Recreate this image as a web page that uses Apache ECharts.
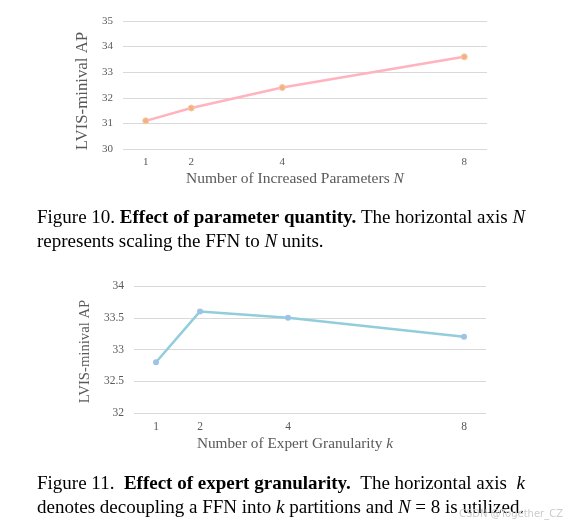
<!DOCTYPE html>
<html>
<head>
    <meta charset="utf-8">
    <title>Figure 10 / Figure 11</title>
    <script src="https://cdn.jsdelivr.net/npm/echarts@6/dist/echarts.min.js"></script>
    <style>
        html, body { margin: 0; padding: 0; background: #fff; }
        #main { width: 564px; height: 526px; }
    </style>
</head>
<body>
<div id="main"></div>
<script>
  // 数据
  var paramN = [1, 2, 4, 8];
  var paramAP = [31.1, 31.6, 32.4, 33.6];
  var granK = [1, 2, 4, 8];
  var granAP = [32.8, 33.6, 33.5, 33.2];
  var xTicks = [1, 2, 4, 8];

  var serif = '"Liberation Serif", "DejaVu Serif", serif';
  var grey = '#595959';
  var capSize = 19;

  function pairs(xs, ys) {
      return xs.map(function (x, i) { return [x, ys[i]]; });
  }

  function xAxisOf(idx, name, nameGap, shift, fs, tickFs) {
      return {
          type: 'value', gridIndex: idx, min: 0.5, max: 8.5,
          name: name, nameLocation: 'middle', nameGap: nameGap,
          nameTextStyle: { fontFamily: serif, fontSize: fs, color: grey, padding: [0, shift, 0, 0], rich: {
              i: { fontFamily: serif, fontSize: fs, color: grey, fontStyle: 'italic' }
          } },
          axisLine: { show: false }, axisTick: { show: false },
          splitLine: { show: false },
          axisLabel: { customValues: xTicks, fontFamily: serif, fontSize: tickFs, color: grey, margin: 8 }
      };
  }

  function yAxisOf(idx, min, max, interval, nameGap, fs, shift, tickFs) {
      return {
          type: 'value', gridIndex: idx, min: min, max: max, interval: interval,
          name: 'LVIS-minival AP', nameLocation: 'middle', nameGap: nameGap,
          nameTextStyle: { fontFamily: serif, fontSize: fs, color: grey, padding: [0, shift, 0, 0] },
          axisLine: { show: false }, axisTick: { show: false },
          splitLine: { lineStyle: { color: '#d9d9d9', width: 1 } },
          axisLabel: { fontFamily: serif, fontSize: tickFs, color: grey, margin: 10 }
      };
  }

  function capStyle(lh) {
      return {
          fontFamily: serif, fontSize: capSize, fontWeight: 'normal', color: '#000', lineHeight: lh,
          rich: {
              b: { fontFamily: serif, fontSize: capSize, fontWeight: 'bold', color: '#000', lineHeight: lh },
              i: { fontFamily: serif, fontSize: capSize, fontStyle: 'italic', color: '#000', lineHeight: lh }
          }
      };
  }

  var chart = echarts.init(document.getElementById('main'));
  chart.setOption({
      backgroundColor: '#fff',
      animation: false,
      title: [
          {
              left: 32, top: 201,
              text: 'Figure 10. {b|Effect of parameter quantity.} The horizontal axis {i|N}\nrepresents scaling the FFN to {i|N} units.',
              textStyle: capStyle(24)
          },
          {
              left: 32, top: 467,
              text: 'Figure 11.  {b|Effect of expert granularity.}  The horizontal axis  {i|k}\ndenotes decoupling a FFN into {i|k} partitions and {i|N} = 8 is utilized.',
              textStyle: capStyle(24)
          },
          {
              right: -4, top: 504,
              text: 'CSDN @Together_CZ',
              textStyle: { fontFamily: '"DejaVu Sans", sans-serif', fontSize: 10, fontWeight: 'normal', color: '#cccccc' }
          }
      ],
      grid: [
          { left: 123, right: 77, top: 21, height: 128 },
          { left: 134, right: 78, top: 286, height: 127 }
      ],
      xAxis: [
          xAxisOf(0, 'Number of Increased Parameters {i|N}', 22, 20, 15.5, 11),
          xAxisOf(1, 'Number of Expert Granularity {i|k}', 23, 30, 15.3, 11.5)
      ],
      yAxis: [
          yAxisOf(0, 30, 35, 1, 23, 16.8, 12, 11),
          yAxisOf(1, 32, 34, 0.5, 33, 14.7, 4, 11.5)
      ],
      series: [
          {
              type: 'line', xAxisIndex: 0, yAxisIndex: 0,
              data: pairs(paramN, paramAP),
              symbol: 'circle', symbolSize: 6,
              lineStyle: { color: '#ffb3bf', width: 2.5 },
              itemStyle: { color: '#f4b183', borderColor: '#f8c9a6', borderWidth: 1 }
          },
          {
              type: 'line', xAxisIndex: 1, yAxisIndex: 1,
              data: pairs(granK, granAP),
              symbol: 'circle', symbolSize: 6,
              lineStyle: { color: '#92cddc', width: 2.5 },
              itemStyle: { color: '#9dc3e6' }
          }
      ]
  });
</script>
</body>
</html>
